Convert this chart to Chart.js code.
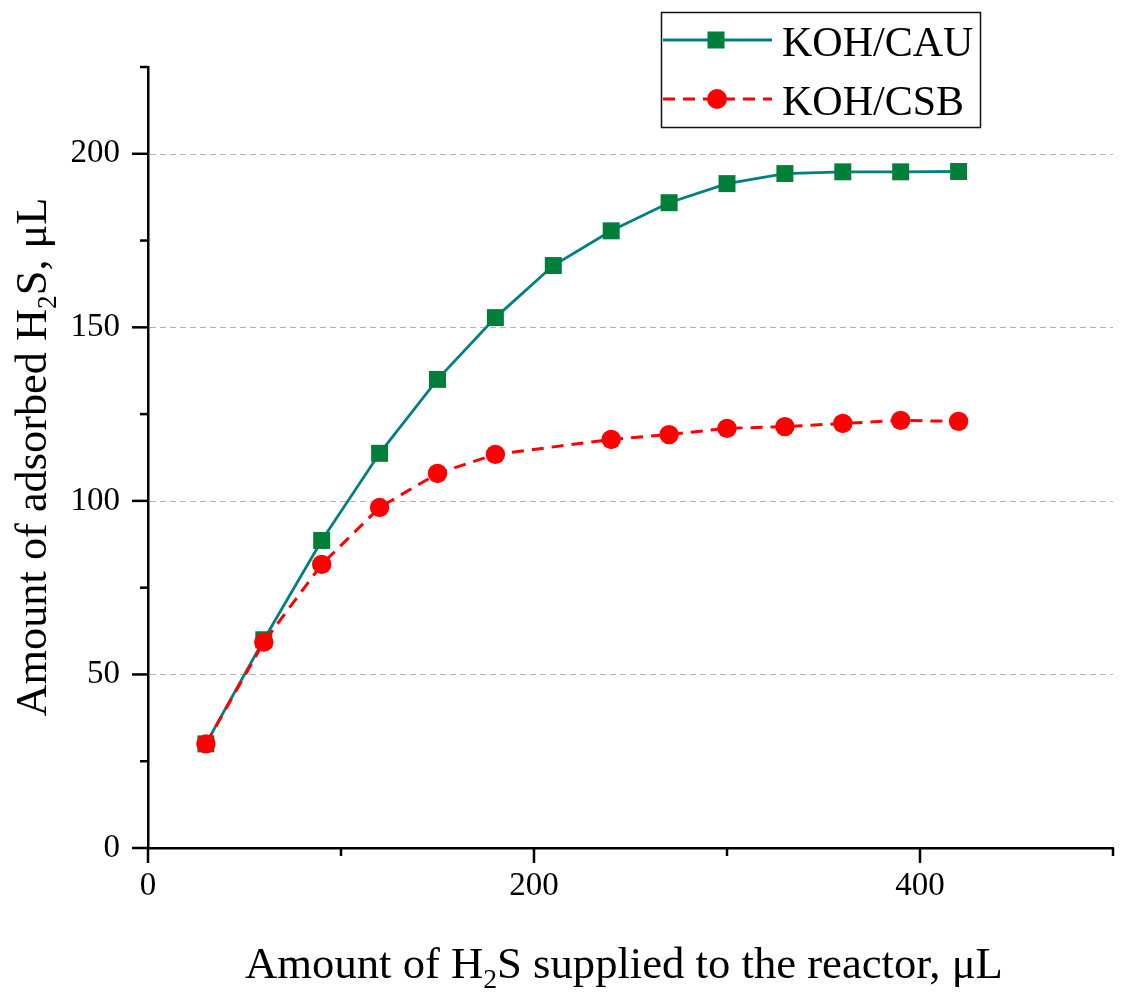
<!DOCTYPE html>
<html>
<head>
<meta charset="utf-8">
<script src="https://cdn.jsdelivr.net/npm/chart.js@4.4.1/dist/chart.umd.min.js"></script>
<style>
  html, body { margin: 0; padding: 0; background: #ffffff; }
  canvas { display: block; }
</style>
</head>
<body>
<canvas id="c" width="1126" height="1004"></canvas>
<script>
// ---- data ----
const cauSupplied = [30, 60, 90, 120, 150, 180, 210, 240, 270, 300, 330, 360, 390, 420];
const cauAdsorbed = [30, 60, 88.6, 113.7, 135.0, 152.8, 167.8, 177.8, 185.9, 191.4, 194.3, 194.8, 194.8, 194.9];
const csbSupplied = [30, 60, 90, 120, 150, 180, 240, 270, 300, 330, 360, 390, 420];
const csbAdsorbed = [30, 59.3, 81.7, 98.1, 107.9, 113.4, 117.7, 119.1, 120.9, 121.4, 122.3, 123.2, 122.9];
const seriesNames = ['KOH/CAU', 'KOH/CSB'];
const xTickLabels = [0, 200, 400];
const yTickLabels = [0, 50, 100, 150, 200];
const xTitleParts = [{ t: 'Amount of H' }, { t: '2', sub: true }, { t: 'S supplied to the reactor, μL' }];
const yTitleParts = [{ t: 'Amount of adsorbed H' }, { t: '2', sub: true }, { t: 'S, μL' }];

// ---- style ----
const FONT = "'Liberation Serif', 'Times New Roman', serif";
const X_MIN = 0, X_MAX = 500, X_MINOR = 100;
const Y_MIN = 0, Y_MAX = 225, Y_MINOR = 25;

function partsWidth(ctx, parts, size) {
  let w = 0;
  parts.forEach(p => {
    ctx.font = (p.sub ? size * 0.62 : size) + 'px ' + FONT;
    w += ctx.measureText(p.t).width;
  });
  return w;
}
function drawParts(ctx, parts, size, targetWidth) {
  const base = partsWidth(ctx, parts, size);
  const s = size * targetWidth / base;
  const total = partsWidth(ctx, parts, s);
  let x = -total / 2;
  ctx.textBaseline = 'alphabetic';
  ctx.textAlign = 'left';
  parts.forEach(p => {
    const fs = p.sub ? s * 0.62 : s;
    ctx.font = fs + 'px ' + FONT;
    ctx.fillText(p.t, x, p.sub ? s * 0.22 : 0);
    x += ctx.measureText(p.t).width;
  });
}

const decor = {
  id: 'decor',
  beforeDatasetsDraw(chart) {
    const { ctx, chartArea: a, scales: { y } } = chart;
    ctx.save();
    ctx.strokeStyle = '#b4b4b4';
    ctx.lineWidth = 1;
    ctx.setLineDash([6, 4]);
    yTickLabels.filter(v => v > Y_MIN).forEach(v => {
      const py = Math.round(y.getPixelForValue(v)) + 0.5;
      ctx.beginPath();
      ctx.moveTo(a.left + 2, py);
      ctx.lineTo(a.right, py);
      ctx.stroke();
    });
    ctx.restore();
  },
  afterDraw(chart) {
    const { ctx, chartArea: a, scales: { x, y } } = chart;
    ctx.save();
    ctx.strokeStyle = '#000';
    ctx.lineWidth = 2.5;
    for (let v = X_MIN; v <= X_MAX; v += X_MINOR) {
      const px = x.getPixelForValue(v);
      const len = xTickLabels.includes(v) ? 15 : 8;
      ctx.beginPath();
      ctx.moveTo(px, a.bottom);
      ctx.lineTo(px, a.bottom + len);
      ctx.stroke();
    }
    for (let v = Y_MIN; v <= Y_MAX; v += Y_MINOR) {
      const py = y.getPixelForValue(v);
      const len = yTickLabels.includes(v) ? 16 : 8;
      ctx.beginPath();
      ctx.moveTo(a.left, py);
      ctx.lineTo(a.left - len, py);
      ctx.stroke();
    }
    ctx.fillStyle = '#000';
    ctx.save();
    ctx.translate(624, 978);
    drawParts(ctx, xTitleParts, 44, 758);
    ctx.restore();
    ctx.save();
    ctx.translate(46, 457);
    ctx.rotate(-Math.PI / 2);
    drawParts(ctx, yTitleParts, 44, 519);
    ctx.restore();

    // legend
    const L = { x: 661.5, y: 12.5, w: 319, h: 115 };
    ctx.lineWidth = 1.5;
    ctx.strokeStyle = '#111';
    ctx.strokeRect(L.x, L.y, L.w, L.h);
    const rows = [40, 99];
    const baselines = [56, 115];
    chart.data.datasets.forEach((ds, i) => {
      const ry = rows[i];
      ctx.save();
      ctx.strokeStyle = ds.borderColor;
      ctx.lineWidth = ds.borderWidth;
      ctx.setLineDash(ds.borderDash || []);
      ctx.beginPath();
      ctx.moveTo(663, ry);
      ctx.lineTo(772, ry);
      ctx.stroke();
      ctx.restore();
      ctx.fillStyle = ds.pointBackgroundColor;
      if (ds.pointStyle === 'rect') {
        ctx.fillRect(716 - 8.5, ry - 8.5, 17, 17);
      } else {
        ctx.beginPath();
        ctx.arc(717, ry, 10, 0, Math.PI * 2);
        ctx.fill();
      }
      ctx.fillStyle = '#000';
      ctx.font = '42px ' + FONT;
      ctx.textAlign = 'left';
      ctx.textBaseline = 'alphabetic';
      ctx.fillText(ds.label, 782, baselines[i]);
    });
    ctx.restore();
  }
};

new Chart(document.getElementById('c').getContext('2d'), {
  type: 'line',
  data: {
    datasets: [
      {
        label: seriesNames[0],
        data: cauSupplied.map((v, i) => ({ x: v, y: cauAdsorbed[i] })),
        borderColor: '#008080',
        borderWidth: 2.8,
        pointStyle: 'rect',
        pointRadius: 12,
        pointBackgroundColor: '#007f3b',
        pointBorderColor: '#007f3b',
        pointBorderWidth: 0,
        tension: 0,
        order: 2
      },
      {
        label: seriesNames[1],
        data: csbSupplied.map((v, i) => ({ x: v, y: csbAdsorbed[i] })),
        borderColor: '#ff0000',
        borderWidth: 3,
        borderDash: [12, 8],
        pointStyle: 'circle',
        pointRadius: 9.7,
        pointBackgroundColor: '#ff0000',
        pointBorderColor: '#ff0000',
        pointBorderWidth: 0,
        tension: 0,
        order: 1
      }
    ]
  },
  options: {
    responsive: false,
    animation: false,
    devicePixelRatio: 1,
    layout: { padding: { top: 67, right: 13, left: 0, bottom: 0 } },
    plugins: { legend: { display: false }, tooltip: { enabled: false } },
    scales: {
      x: {
        type: 'linear',
        min: X_MIN,
        max: X_MAX,
        afterBuildTicks: s => { s.ticks = xTickLabels.map(v => ({ value: v })); },
        afterFit: s => { s.height = 156; },
        grid: { display: false, drawTicks: false },
        border: { display: true, color: '#000', width: 2.5 },
        ticks: { padding: 19, color: '#000', font: { family: FONT, size: 33 }, maxRotation: 0, autoSkip: false }
      },
      y: {
        type: 'linear',
        min: Y_MIN,
        max: Y_MAX,
        afterBuildTicks: s => { s.ticks = yTickLabels.map(v => ({ value: v })); },
        afterFit: s => { s.width = 148; },
        grid: { display: false, drawTicks: false },
        border: { display: true, color: '#000', width: 2.5 },
        ticks: { padding: 28, color: '#000', font: { family: FONT, size: 33 }, autoSkip: false }
      }
    }
  },
  plugins: [decor]
});
</script>
</body>
</html>
